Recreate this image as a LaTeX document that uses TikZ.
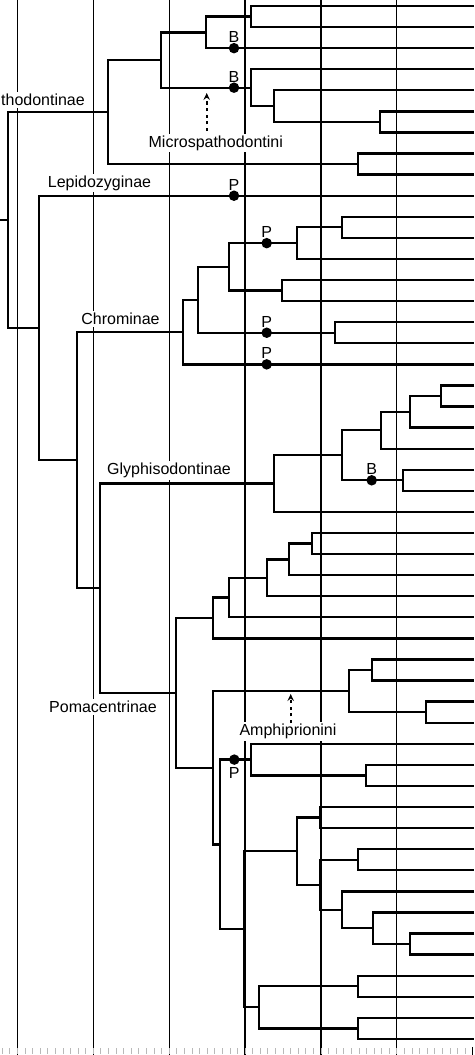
\documentclass[tikz,border=0pt]{standalone}
\usepackage{fontspec}
\setmainfont{Liberation Sans}
\usetikzlibrary{calc, arrows.meta}

% clade: name, x of the split, upper child, lower child
\newcommand{\clade}[4]{%
  \path let \p1=(#3), \p2=(#4) in (#2pt, {0.5*(\y1+\y2)}) coordinate (#1);
  \draw[branch] (#3) -| (#1) |- (#4);
}

\begin{document}
\begin{tikzpicture}[
    x=1pt, y=-1pt,
    every node/.style={font=\fontsize{16}{18}\selectfont},
    branch/.style={line width=2.3pt},
    epoch/.style={line width=1.2pt},
    tickmark/.style={gray!55, line width=0.6pt},
    grp/.style={fill=white, inner sep=2pt},
    dot/.style={circle, fill, inner sep=0pt, minimum size=10.5pt, label distance=4pt},
    letter/.style={inner sep=0pt},
    dotarr/.style={-{Stealth[length=7pt, width=6.5pt, inset=2.5pt]}, line width=2.4pt,
                   dash pattern=on 3.3pt off 3.3pt}
]
\useasboundingbox (0,0) rectangle (474,1055);

% time lines and scale
\foreach \gx in {17.3, 93.2, 169.1, 245, 320.9, 396.8}
  \draw[epoch] (\gx,0) -- (\gx,1055);
\foreach \k in {0,...,61}
  \draw[tickmark] ({2.1+7.59*\k},1048) -- ++(0,6);
\draw[epoch] (472.7,1047) -- (472.7,1055);

% group labels
\node[grp, anchor=east] (lbMicro) at (87,100) {thodontinae};
\node[grp] (lbLepido) at (99.5,183) {Lepidozyginae};
\node[grp] (lbChromi) at (120.5,319) {Chrominae};
\node[grp] (lbGlyph) at (169,470.5) {Glyphisodontinae};
\node[grp] (lbPomac) at (103,707) {Pomacentrinae};
\node[grp] (lbMicroT) at (215.8,143) {Microspathodontini};
\node[grp] (lbAmph) at (288,731.5) {Amphiprionini};

% tips
\foreach \i in {0,...,49}
  \coordinate (t\i) at (474,{6+21.08*\i});

% Microspathodontinae
\clade{a1}{251}{t0}{t1}
\clade{a2}{205.7}{a1}{t2}
\clade{a4}{380}{t5}{t6}
\clade{a3}{274}{t4}{a4}
\clade{a5}{251}{t3}{a3}
\clade{a6}{160.7}{a2}{a5}
\clade{a7}{358}{t7}{t8}
\clade{a8}{107.7}{a6}{a7}

% Chrominae
\clade{c1}{342.3}{t10}{t11}
\clade{c2}{296.7}{c1}{t12}
\clade{c3}{282.3}{t13}{t14}
\clade{c4}{228.7}{c2}{c3}
\clade{c5}{335}{t15}{t16}
\clade{c6}{198}{c4}{c5}
\clade{c7}{182.7}{c6}{t17}

% Glyphisodontinae
\clade{g1}{441}{t18}{t19}
\clade{g2}{410}{g1}{t20}
\clade{g3}{380.7}{g2}{t21}
\clade{g4}{403.3}{t22}{t23}
\clade{g5}{342.3}{g3}{g4}
\clade{g6}{274}{g5}{t24}

% Pomacentrinae
\clade{p1}{312.3}{t25}{t26}
\clade{p2}{289.3}{p1}{t27}
\clade{p3}{266.7}{p2}{t28}
\clade{p4}{228.7}{p3}{t29}
\clade{p5}{213.3}{p4}{t30}
\clade{q1}{372.3}{t31}{t32}
\clade{q2}{425.7}{t33}{t34}
\clade{q3}{349.3}{q1}{q2}
\clade{s1}{365.7}{t36}{t37}
\clade{s2}{250.7}{t35}{s1}
\clade{u1}{320}{t38}{t39}
\clade{u2}{358}{t40}{t41}
\clade{u3}{410}{t44}{t45}
\clade{u4}{372.7}{t43}{u3}
\clade{u5}{342.3}{t42}{u4}
\clade{u6}{320}{u2}{u5}
\clade{u7}{296.7}{u1}{u6}
\clade{v1}{358}{t46}{t47}
\clade{v2}{358}{t48}{t49}
\clade{v3}{259.3}{v1}{v2}
\clade{w1}{244.3}{u7}{v3}
\clade{x1}{220}{s2}{w1}
\clade{x2}{213.3}{q3}{x1}
\clade{p6}{175.7}{p5}{x2}

% backbone
\clade{n1}{100}{g6}{p6}
\clade{m1}{77.3}{c7}{n1}
\clade{l1}{39.3}{t9}{m1}
\clade{r}{8.3}{a8}{l1}
\coordinate (r0) at (r -| 0,0);
\draw[branch] (r0) -- (r);

% fossil calibrations
\node[dot, label={[letter]above:B}] (bA) at (t2 -| 234,0) {};
\node[dot, label={[letter]above:B}] (bB) at (a5 -| 234,0) {};
\node[dot, label={[letter]above:P}] (pL) at (t9 -| 234,0) {};
\node[dot, label={[letter]above:P}] (pC1) at (c2 -| 266.7,0) {};
\node[dot, label={[letter]above:P}] (pC2) at (c5 -| 266.7,0) {};
\node[dot, label={[letter]above:P}] (pC3) at (t17 -| 266.7,0) {};
\node[dot, label={[letter]above:B}] (bG) at (g4 -| 371.7,0) {};
\node[dot, label={[letter, yshift=-2pt]below:P}] (pP) at (s2 -| 234.3,0) {};

% tribe pointers
\coordinate (msFoot) at (206.7,131);
\coordinate (msHead) at (206.7,93);
\draw[dotarr] (msFoot) -- (msHead);
\coordinate (amFoot) at (290.7,723);
\coordinate (amHead) at (290.7,694);
\draw[dotarr] (amFoot) -- (amHead);
\end{tikzpicture}
\end{document}
